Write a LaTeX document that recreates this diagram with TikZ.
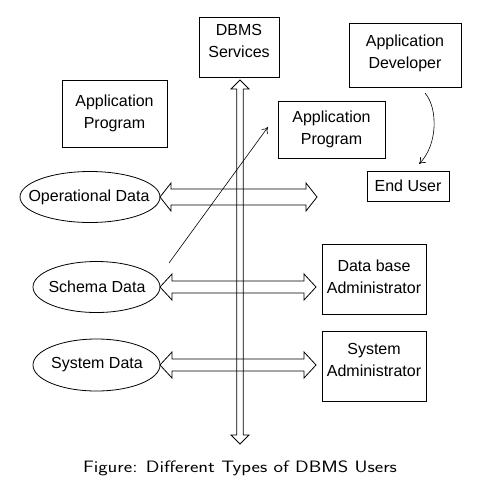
\documentclass[tikz,border=0pt]{standalone}
\usepackage{fontspec}
\usepackage{graphicx}
\setmainfont{Liberation Sans}
\usetikzlibrary{arrows.meta,shapes.geometric}
\newcommand{\dblharrow}[6]{% x1 x2 y halfshaft halfhead headlen
  \draw[outl] (#1,#3) -- ({#1+#6},{#3-#5}) -- ({#1+#6},{#3-#4}) -- ({#2-#6},{#3-#4}) -- ({#2-#6},{#3-#5}) -- (#2,#3)
   -- ({#2-#6},{#3+#5}) -- ({#2-#6},{#3+#4}) -- ({#1+#6},{#3+#4}) -- ({#1+#6},{#3+#5}) -- cycle;}
\begin{document}
\begin{tikzpicture}[x=1pt,y=-1pt,
  box/.style={draw, line width=0.8pt, inner sep=0pt},
  txt/.style={align=center, inner sep=0pt, font=\fontsize{16}{22}\selectfont},
  ell/.style={draw, ellipse, line width=0.8pt, inner sep=0pt},
  outl/.style={line width=0.8pt, line join=miter},
  thinarr/.style={line width=0.6pt, -{To[length=6pt,width=8pt]}}]
\useasboundingbox (0,0) rectangle (500,488);
\fill[white] (0,0) rectangle (500,488);
% boxes
\node[box, minimum width=80pt, minimum height=60pt] (dbms) at (239,47) {};
\node[txt] (dbmst) at (239,41) {DBMS\\Services};
\node[box, minimum width=105pt, minimum height=67pt] (app1) at (114.5,113.5) {};
\node[txt] (app1t) at (114.5,113) {Application\\Program};
\node[box, minimum width=107pt, minimum height=57pt] (app2) at (331.5,129.5) {};
\node[txt] (app2t) at (331.5,129.5) {Application\\Program};
\node[box, minimum width=112pt, minimum height=64pt] (dev) at (405,55) {};
\node[txt] (devt) at (405,53) {Application\\Developer};
\node[box, minimum width=82pt, minimum height=30pt] (eu) at (408,186) {};
\node[txt] (eut) at (408,186) {End User};
\node[box, minimum width=104pt, minimum height=70pt] (dba) at (374,279) {};
\node[txt] (dbat) at (374,277) {Data base\\Administrator};
\node[box, minimum width=104pt, minimum height=70pt] (sa) at (374,366) {};
\node[txt] (sat) at (374,360) {System\\Administrator};
% ellipses
\node[ell, minimum width=140pt, minimum height=51pt] (op) at (90,197) {};
\node[txt] (opt) at (89,197) {Operational Data};
\node[ell, minimum width=127pt, minimum height=51pt] (sch) at (96.5,287) {};
\node[txt] (scht) at (97,287) {Schema Data};
\node[ell, minimum width=127pt, minimum height=52pt] (sys) at (96.5,365) {};
\node[txt] (syst) at (97,365) {System Data};
% vertical double arrow
\draw[outl] (240,80) -- (249,89) -- (243.3,89) -- (243.3,435) -- (249,435) -- (240,444) -- (231,435) -- (236.7,435) -- (236.7,89) -- (231,89) -- cycle;
% horizontal double arrows
\dblharrow{160}{317}{197}{8}{14}{11}
\dblharrow{160}{316}{287}{6}{13}{12}
\dblharrow{160}{316}{365}{6}{13}{12}
% diagonal arrow
\coordinate (dstart) at (169,263);
\coordinate (dend) at (268,127);
\draw[thinarr] (dstart) -- (dend);
% curved arrow
\coordinate (cstart) at (425,93);
\coordinate (cend) at (419,164);
\draw[thinarr] (cstart) .. controls (438,108) and (438,145) .. (cend);
% caption
\node[inner sep=0pt] (cap) at (240,468) {\scalebox{1.22}[1]{\sffamily\fontsize{16.5}{18}\selectfont Figure: Different Types of DBMS Users}};
\end{tikzpicture}
\end{document}
